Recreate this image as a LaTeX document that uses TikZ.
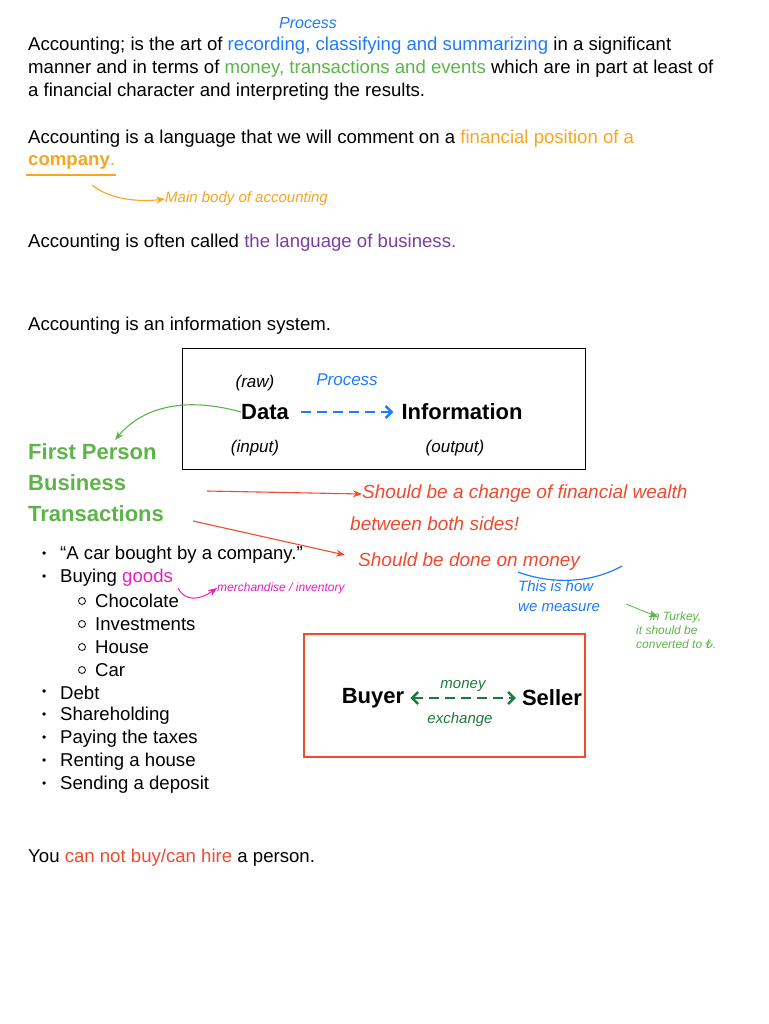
\documentclass[tikz,border=0pt]{standalone}
\usepackage{fontspec}
\setmainfont{Liberation Sans}
\newfontfamily\djv{DejaVu Sans}
\usetikzlibrary{arrows.meta}
\definecolor{cblue}{HTML}{1E7BFF}
\definecolor{cgreen}{HTML}{5DB54A}
\definecolor{corange}{HTML}{F5A623}
\definecolor{cpurple}{HTML}{7B3FA0}
\definecolor{cred}{HTML}{F04A2F}
\definecolor{cmag}{HTML}{E91EBF}
\definecolor{cdgreen}{HTML}{1E7A3C}
\tikzset{
 body/.style={anchor=west,inner sep=0pt,font=\fontsize{18.6}{22}\selectfont},
 hand/.style={inner sep=0pt,font=\fontsize{15}{17}\selectfont\itshape},
 big/.style={inner sep=0pt,font=\fontsize{22}{26}\selectfont\bfseries},
 arr/.style={-{Stealth[length=9pt,width=7pt]},line width=1.1pt}
}
\begin{document}
\begin{tikzpicture}[x=1pt,y=-1pt]
\useasboundingbox (0,0) rectangle (768,1024);
\fill[white] (0,0) rectangle (768,1024);
\node[body] (l1) at (28,46) {Accounting; is the art of \textcolor{cblue}{recording, classifying and summarizing} in a significant};
\node[body] (l2) at (28,69) {manner and in terms of \textcolor{cgreen}{money, transactions and events} which are in part at least of};
\node[body] (l3) at (28,92) {a financial character and interpreting the results.};
\node[hand,text=cblue,font=\fontsize{16}{18}\selectfont\itshape] (proc1) at (308,23) {Process};
\node[body] (l4) at (28,139) {Accounting is a language that we will comment on a \textcolor{corange}{financial position of a}};
\node[body] (l5) at (28,162) {\textcolor{corange}{\textbf{company}.}};
\draw[corange,line width=1.2pt] (26,175) -- (116,175);
\node[hand,text=corange,anchor=west] (mb) at (165,199) {Main body of accounting};
\draw[arr,corange] (92,185) .. controls (110,200) and (140,202) .. (mb.west);
\node[body] (l6) at (28,243) {Accounting is often called \textcolor{cpurple}{the language of business.}};
\node[body] (l7) at (28,326) {Accounting is an information system.};
\draw[line width=1pt] (182,348) rectangle (585,469);
\node[big] (data) at (265,412) {Data};
\node[big] (info) at (462,412) {Information};
\draw[cblue,line width=2.5pt,dash pattern=on 10pt off 6pt,-{Straight Barb[length=6pt]}] ([xshift=12pt]data.east) -- ([xshift=-8pt]info.west);
\node[hand,font=\fontsize{17}{20}\selectfont\itshape] (raw) at (255,383) {(raw)};
\node[hand,text=cblue,font=\fontsize{17}{20}\selectfont\itshape] (proc2) at (347,380) {Process};
\node[hand,font=\fontsize{17}{20}\selectfont\itshape] (inp) at (255,448) {(input)};
\node[hand,font=\fontsize{17}{20}\selectfont\itshape] (outp) at (455,448) {(output)};
\node[big,text=cgreen,anchor=west,align=left] (fp) at (28,483) {First Person\\[5pt]Business\\[5pt]Transactions};
\draw[arr,cgreen] (data.west) .. controls (180,395) and (140,410) .. (115,440);
\node[hand,text=cred,anchor=west,font=\fontsize{19}{22}\selectfont\itshape] (s1) at (362,494) {Should be a change of financial wealth};
\node[hand,text=cred,anchor=west,font=\fontsize{19}{22}\selectfont\itshape] (s2) at (350,524) {between both sides!};
\draw[arr,cred] (207,491) -- (s1.west);
\node[hand,text=cred,anchor=west,font=\fontsize{19}{22}\selectfont\itshape] (s3) at (358,562) {Should be done on money};
\draw[arr,cred] (193,521) -- (345,555);
\draw[cblue,line width=1.2pt] (518,572) .. controls (550,584) and (590,584) .. (622,566);
\node[hand,text=cblue,anchor=west,align=left] (meas) at (518,596) {This is how\\[3pt]we measure};
\node[hand,text=cgreen,anchor=west,align=left,font=\fontsize{12}{14}\selectfont\itshape] (tr) at (636,630) {\ \ \ \ In Turkey,\\it should be\\converted to {\djv ₺}.};
\draw[arr,cgreen,line width=0.8pt] (626,604) -- (658,617);
\foreach \y/\t in {555/{“A car bought by a company.”},578/{Buying \textcolor{cmag}{goods}},693/Debt,716/Shareholding,739/Paying the taxes,762/Renting a house,785/Sending a deposit}{
 \node[body,font=\fontsize{12}{14}\selectfont] at (42,\y) {•};
 \node[body] at (60,\y) {\t};}
\foreach \y/\t in {601/Chocolate,624/Investments,647/House,670/Car}{
 \draw[line width=0.8pt] (82,\y) circle (3.5);
 \node[body] at (95,\y) {\t};}
\node[hand,text=cmag,anchor=west,font=\fontsize{12}{14}\selectfont\itshape] (merch) at (217,588) {merchandise / inventory};
\draw[arr,cmag,line width=1pt] (178,588) .. controls (185,602) and (200,600) .. (merch.west);
\draw[cred,line width=1.2pt] (304,634) rectangle (585,757);
\node[big] (buyer) at (373,698) {Buyer};
\node[big] (seller) at (552,698) {Seller};
\draw[cdgreen,line width=2.5pt,dash pattern=on 10pt off 6pt,{Straight Barb[length=6pt]}-{Straight Barb[length=6pt]}] ([xshift=6pt]buyer.east) -- ([xshift=-6pt]seller.west);
\node[hand,text=cdgreen] (money) at (463,686) {money};
\node[hand,text=cdgreen] (exch) at (460,720) {exchange};
\node[body] (l8) at (28,858) {You \textcolor{cred}{can not buy/can hire} a person.};
\end{tikzpicture}
\end{document}
